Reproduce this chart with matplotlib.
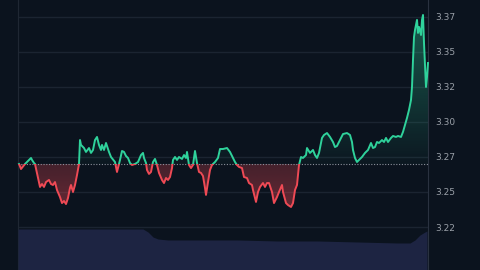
import numpy as np
import matplotlib
matplotlib.use("Agg")
import matplotlib.pyplot as plt
from matplotlib.path import Path
from matplotlib.patches import Rectangle

# price trace, minutes since open
minutes = [1, 3, 7, 10, 13, 14, 16, 17, 20, 22, 24, 26, 28, 31, 33, 35, 37, 39, 42, 44,
           46, 48, 50, 52, 53, 55, 57, 59, 61, 62, 63, 66, 68, 71, 73, 75, 77, 79, 81, 83,
           84, 86, 88, 91, 93, 97, 99, 102, 104, 106, 108, 110, 112, 114, 117, 120, 123, 125, 126, 128,
           129, 131, 133, 135, 137, 139, 141, 144, 146, 148, 150, 152, 154, 155, 157, 159, 161, 164, 166, 168,
           169, 171, 173, 175, 177, 179, 181, 183, 185, 187, 188, 190, 192, 194, 197, 200, 202, 205, 209, 212,
           215, 217, 219, 221, 224, 226, 229, 231, 234, 235, 238, 240, 242, 245, 247, 249, 251, 254, 256, 259,
           261, 264, 265, 268, 270, 273, 275, 277, 279, 281, 283, 285, 288, 289, 292, 295, 297, 299, 301, 304,
           306, 309, 312, 315, 317, 319, 322, 325, 329, 332, 334, 335, 337, 339, 341, 344, 347, 350, 353, 355,
           357, 359, 361, 364, 366, 368, 370, 373, 375, 378, 380, 383, 385, 387, 389, 391, 393, 394, 395, 396,
           397, 399, 400, 401, 403, 404, 405, 406, 408, 409, 410]
price = [3.2650, 3.2614, 3.2650, 3.2671, 3.2693, 3.2679, 3.2657, 3.2650, 3.2550, 3.2486,
         3.2507, 3.2486, 3.2521, 3.2536, 3.2507, 3.2500, 3.2521, 3.2464, 3.2414, 3.2371,
         3.2386, 3.2364, 3.2407, 3.2479, 3.2500, 3.2450, 3.2500, 3.2571, 3.2650, 3.2821,
         3.2786, 3.2764, 3.2736, 3.2764, 3.2729, 3.2750, 3.2821, 3.2843, 3.2786, 3.2750,
         3.2786, 3.2750, 3.2800, 3.2736, 3.2700, 3.2664, 3.2593, 3.2679, 3.2743, 3.2736,
         3.2707, 3.2693, 3.2657, 3.2643, 3.2650, 3.2664, 3.2714, 3.2729, 3.2693, 3.2657,
         3.2607, 3.2579, 3.2593, 3.2664, 3.2686, 3.2643, 3.2586, 3.2536, 3.2514, 3.2550,
         3.2536, 3.2557, 3.2621, 3.2679, 3.2700, 3.2679, 3.2700, 3.2686, 3.2714, 3.2693,
         3.2736, 3.2643, 3.2621, 3.2643, 3.2743, 3.2657, 3.2593, 3.2586, 3.2564, 3.2479,
         3.2429, 3.2521, 3.2607, 3.2643, 3.2664, 3.2693, 3.2757, 3.2757, 3.2764, 3.2736,
         3.2693, 3.2664, 3.2643, 3.2629, 3.2621, 3.2557, 3.2550, 3.2514, 3.2500, 3.2464,
         3.2379, 3.2450, 3.2486, 3.2514, 3.2486, 3.2514, 3.2514, 3.2450, 3.2371, 3.2414,
         3.2450, 3.2500, 3.2450, 3.2371, 3.2357, 3.2343, 3.2371, 3.2464, 3.2500, 3.2643,
         3.2700, 3.2693, 3.2714, 3.2764, 3.2729, 3.2750, 3.2714, 3.2693, 3.2729, 3.2836,
         3.2857, 3.2871, 3.2843, 3.2807, 3.2771, 3.2779, 3.2821, 3.2864, 3.2871, 3.2857,
         3.2807, 3.2750, 3.2693, 3.2664, 3.2679, 3.2700, 3.2729, 3.2750, 3.2800, 3.2764,
         3.2771, 3.2807, 3.2800, 3.2821, 3.2807, 3.2836, 3.2807, 3.2836, 3.2850, 3.2843,
         3.2850, 3.2843, 3.2879, 3.2929, 3.2979, 3.3036, 3.3107, 3.3200, 3.3393, 3.3557,
         3.3607, 3.3679, 3.3586, 3.3629, 3.3571, 3.3679, 3.3714, 3.3514, 3.3200, 3.3271,
         3.3371]
prev_close = 3.265

# volume band at the bottom
vol_minutes = [0, 40, 80, 125, 130, 135, 140, 150, 180, 220, 260, 300, 340, 380, 392, 397, 402, 407, 409]
volume = [41, 41, 41, 41, 38, 33, 31, 30, 30, 30, 29, 29, 28, 27, 27, 30, 35, 38, 39]

tick_vals = [3.22, 3.245, 3.27, 3.295, 3.32, 3.345, 3.37]
tick_labels = ["3.22", "3.25", "3.27", "3.30", "3.32", "3.35", "3.37"]

bg = "#0b131e"
green = "#2fd29b"
red = "#ef4a55"

t = np.array(minutes, dtype=float)
p = np.array(price)

fig = plt.figure(figsize=(4.8, 2.7), dpi=100, facecolor=bg)
ax = fig.add_axes([18 / 480, 0, 410 / 480, 1])
ax.set_facecolor(bg)
ax.set_xlim(0, 410)
ax.set_ylim(3.1893, 3.3821)

# grid
for v in tick_vals:
    ax.axhline(v, color="#1b2431", lw=1.0, zorder=1)

# volume band
vax = ax.twinx()
vax.set_ylim(0, 270)
vax.fill_between(vol_minutes, 0, volume, color="#1d2442", lw=0, zorder=1)
vax.set_yticks([])
for s in vax.spines.values():
    s.set_visible(False)


def gradient_fill(poly, c, a_top, a_bot, y0, y1):
    paths = poly.get_paths()
    poly.remove()
    if not paths:
        return
    path = Path.make_compound_path(*paths)
    rgb = matplotlib.colors.to_rgb(c)
    img = np.zeros((100, 1, 4))
    img[:, :, :3] = rgb
    img[:, 0, 3] = np.linspace(a_top, a_bot, 100)
    im = ax.imshow(img, extent=[0, 410, y0, y1], aspect="auto", origin="upper", zorder=2)
    im.set_clip_path(path, transform=ax.transData)


up = ax.fill_between(t, p, prev_close, where=p >= prev_close, interpolate=True)
gradient_fill(up, green, 0.38, 0.03, prev_close, 3.372)
dn = ax.fill_between(t, p, prev_close, where=p <= prev_close, interpolate=True)
gradient_fill(dn, red, 0.40, 0.25, prev_close, 3.234)

ax.set_xlim(0, 410)
ax.set_ylim(3.1893, 3.3821)

# two-tone line
lg, = ax.plot(t, p, color=green, lw=1.4, zorder=4, solid_joinstyle="round")
lr, = ax.plot(t, p, color=red, lw=1.4, zorder=4, solid_joinstyle="round")
lg.set_clip_path(Rectangle((-10, prev_close), 500, 1, transform=ax.transData))
lr.set_clip_path(Rectangle((-10, prev_close - 1), 500, 1, transform=ax.transData))

ax.axhline(prev_close, color="#8c929c", lw=0.8, ls=(0, (1, 1.5)), zorder=3)

ax.yaxis.tick_right()
ax.set_yticks(tick_vals)
ax.set_yticklabels(tick_labels)
ax.tick_params(axis="y", length=0, pad=5, labelsize=6.5, labelcolor="#9aa0a8")
ax.set_xticks([])
for k in ["top", "bottom"]:
    ax.spines[k].set_visible(False)
ax.spines["left"].set_color("#1f2733")
ax.spines["right"].set_color("#2a3240")

fig.savefig("out.png", dpi=100, facecolor=bg)
